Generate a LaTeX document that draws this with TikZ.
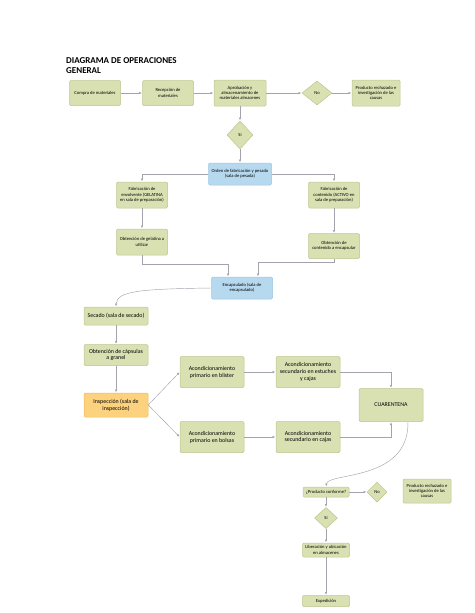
\documentclass[tikz,border=0pt]{standalone}
\usepackage{fontspec}
\setmainfont{Carlito}
\usetikzlibrary{shapes.geometric,arrows.meta}
\definecolor{cajaverde}{HTML}{D9E1B3}
\definecolor{bordeverde}{HTML}{BCC68C}
\definecolor{cajaazul}{HTML}{B7D9EF}
\definecolor{bordeazul}{HTML}{9CC6E3}
\definecolor{cajanaranja}{HTML}{FCD27E}
\definecolor{bordenaranja}{HTML}{EFBB5A}
\definecolor{linea}{HTML}{A3A3AD}

\begin{document}
\begin{tikzpicture}[x=1pt, y=-1pt, shorten >=0.5pt, >={Latex[length=2.6pt,width=2.4pt]},
	proc/.style={rectangle, rounded corners=1.2pt, draw=bordeverde, fill=cajaverde, line width=0.5pt, align=center, inner sep=1pt, font=\fontsize{4.6}{5.3}\selectfont},
	pesada/.style={proc, draw=bordeazul, fill=cajaazul},
	insp/.style={proc, draw=bordenaranja, fill=cajanaranja},
	big/.style={font=\fontsize{5.9}{6.9}\selectfont},
	decision/.style={diamond, draw=bordeverde, fill=cajaverde, line width=0.5pt, inner sep=0pt, font=\fontsize{4.6}{5.3}\selectfont},
	flow/.style={draw=linea, line width=0.45pt, ->}]
	\useasboundingbox (0,0) rectangle (474,613);
	\node[font=\bfseries\fontsize{9}{9.4}\selectfont, align=left, anchor=north west, inner sep=0pt] (titulo) at (66,57.5) {DIAGRAMA DE OPERACIONES\\GENERAL};
	% recepcion de materiales
	\node[proc, minimum width=51pt, minimum height=25pt] (compra) at (95,93) {Compra de materiales};
	\node[proc, minimum width=51pt, minimum height=25pt] (recep) at (168,93) {Recepción de\\materiales};
	\node[proc, minimum width=52pt, minimum height=26pt] (aprob) at (240,93) {Aprobación y\\almacenamiento de\\materiales almacenes};
	\node[decision, minimum width=30pt, minimum height=24pt] (no1) at (317,93) {No};
	\node[proc, minimum width=48pt, minimum height=26pt] (rech1) at (376,93) {Producto rechazado e\\investigación de las\\causas};
	\node[decision, minimum width=26pt, minimum height=28pt] (si1) at (240,135) {Si};
	% fabricacion
	\node[pesada, minimum width=63pt, minimum height=22pt] (orden) at (240,174) {Orden de fabricación y pesado\\(sala de pesada)};
	\node[proc, minimum width=51pt, minimum height=26pt] (fenv) at (142,195) {Fabricación de\\envolvente (GELATINA\\en sala de preparación)};
	\node[proc, minimum width=51pt, minimum height=26pt] (fcont) at (334,195) {Fabricación de\\contenido (ACTIVO en\\sala de preparación)};
	\node[proc, minimum width=51pt, minimum height=26pt] (ogel) at (142,242) {Obtención de gelatina a\\utilizar};
	\node[proc, minimum width=51pt, minimum height=25pt] (ocont) at (334,246) {Obtención de\\contenido a encapsular};
	\node[pesada, minimum width=61pt, minimum height=22pt] (encap) at (242,288) {Encapsulado (sala de\\encapsulado)};
	% secado, inspeccion y acondicionamiento
	\node[proc, big, minimum width=64pt, minimum height=18pt] (secado) at (116,316) {Secado (sala de secado)};
	\node[proc, big, minimum width=64pt, minimum height=21pt] (granel) at (116,355) {Obtención de cápsulas\\a granel};
	\node[insp, big, minimum width=64pt, minimum height=24pt] (inspec) at (116,405) {Inspección (sala de\\inspección)};
	\node[proc, big, minimum width=64pt, minimum height=31pt] (blister) at (212,372) {Acondicionamiento\\primario en blister};
	\node[proc, big, minimum width=64pt, minimum height=31pt] (estuch) at (308,372) {Acondicionamiento\\secundario en estuches\\y cajas};
	\node[proc, big, minimum width=64pt, minimum height=33pt] (cuar) at (391,405) {CUARENTENA};
	\node[proc, big, minimum width=64pt, minimum height=31pt] (bolsas) at (212,437) {Acondicionamiento\\primario en bolsas};
	\node[proc, big, minimum width=64pt, minimum height=31pt] (cajas) at (308,437) {Acondicionamiento\\secundario en cajas};
	% liberacion
	\node[proc, minimum width=46pt, minimum height=10pt] (conf) at (326,492) {¿Producto conforme?};
	\node[decision, minimum width=20pt, minimum height=20pt] (no2) at (377,492) {No};
	\node[proc, minimum width=48pt, minimum height=24pt] (rech2) at (427,491) {Producto rechazado e\\investigación de las\\causas};
	\node[decision, minimum width=23pt, minimum height=21pt] (si2) at (326,518) {Si};
	\node[proc, minimum width=47pt, minimum height=14pt] (lib) at (326,550) {Liberación y ubicación\\en almacenes};
	\node[proc, minimum width=47pt, minimum height=11pt] (exped) at (326,601) {Expedición};
	\path[every edge/.style={flow}]
		(compra) edge (recep)
		(recep) edge (aprob)
		(aprob) edge (no1)
		(no1) edge (rech1)
		(aprob) edge (si1)
		(si1) edge (orden)
		(fenv) edge (ogel)
		(fcont) edge (ocont)
		(secado) edge (granel)
		(granel) edge (inspec)
		(inspec.east) edge (blister.west)
		(inspec.east) edge (bolsas.west)
		(blister) edge (estuch)
		(bolsas) edge (cajas)
		(conf) edge (no2)
		(conf) edge (si2)
		(si2) edge (lib)
		(lib) edge (exped);
	\draw[flow] (orden.west) -| (fenv.north);
	\draw[flow] (orden.east) -| (fcont.north);
	\draw[flow] (ogel.south) -- ++(0,9) -| ([xshift=-14pt]encap.north);
	\draw[flow] (ocont.south) -- ++(0,3) -| ([xshift=16pt]encap.north);
	\draw[flow] (encap.west) .. controls (140,289) and (117,291) .. (secado.north);
	\draw[flow] (estuch.east) -| (cuar.north);
	\draw[flow] (cajas.east) -| (cuar.south);
	\draw[flow] ([xshift=17pt]cuar.south) .. controls (409,482) and (328,472) .. (conf.north);
\end{tikzpicture}
\end{document}
